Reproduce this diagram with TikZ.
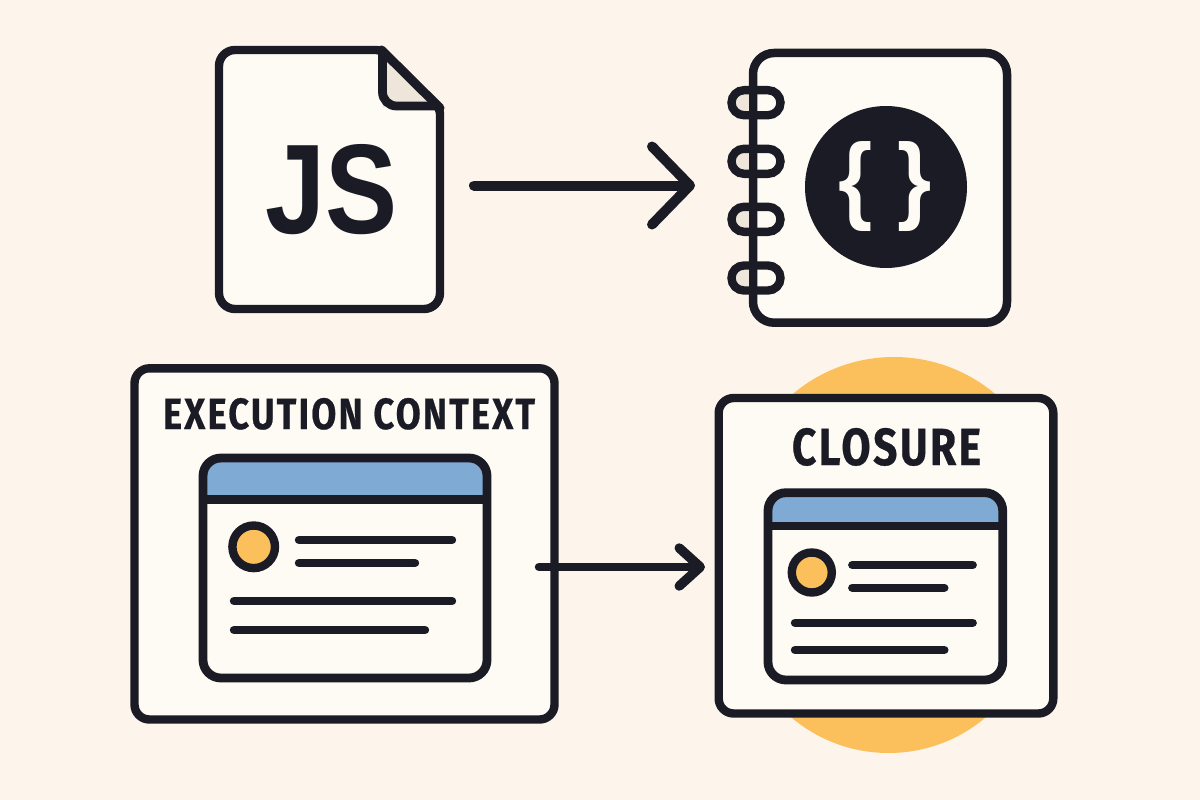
\documentclass[tikz,border=0pt]{standalone}
\usepackage{fontspec}
\usepackage{graphicx}
\setmainfont{Liberation Sans}
\newfontfamily\titlefont{Fira Sans}[UprightFont=* Bold,LetterSpace=6,FakeBold=0.6]
\newfontfamily\jsfont{Liberation Sans}[UprightFont=* Bold]
\usetikzlibrary{arrows.meta}
\definecolor{bgc}{HTML}{FDF5EC}
\definecolor{paper}{HTML}{FEFAF4}
\definecolor{ink}{HTML}{1A1B25}
\definecolor{foldc}{HTML}{EEE6DB}
\definecolor{bluec}{HTML}{7FAAD3}
\definecolor{sun}{HTML}{FBC05C}
\tikzset{
 x=1pt,y=-1pt,
 card/.style={draw=ink,fill=paper,line width=8.4pt,rounded corners=15pt},
 windowbox/.style={draw=ink,fill=paper,line width=8.8pt,rounded corners=18pt},
 textline/.style={draw=ink,line width=8.4pt,line cap=round},
 dot/.style={draw=ink,fill=sun,line width=8.4pt},
 ring/.style={draw=ink,fill=paper,line width=8.4pt,rounded corners=12.5pt},
 label/.style={inner sep=0pt,outer sep=0pt,anchor=base west,text=ink},
}
\begin{document}
\begin{tikzpicture}
\useasboundingbox (0,0) rectangle (1200,800);
\fill[bgc] (0,0) rectangle (1200,800);

% JS file
\path[card,line join=round] (300,50) [rounded corners=5pt] -- (381,50) -- (440,109) [rounded corners=16pt] -- (440,309) -- (219,309) -- (219,50) -- cycle;
\fill[foldc] (382.5,50) -- (440,107) -- (382.5,107) -- cycle;
\draw[ink,line width=8.8pt,rounded corners=14pt] (382.5,52) -- (382.5,106) -- (440,106);
\draw[ink,line width=9pt,line cap=round] (381.5,50) -- (440,108);
\node[label] (js) at (265,233.5) {\resizebox{132pt}{89pt}{\jsfont JS}};

% Notebook
\draw[card,line width=8.5pt,rounded corners=21pt] (753,53) rectangle (1007,322.7);
\foreach \n/\yy in {a/102.7,b/161.3,c/219.3,d/278}{
  \fill[foldc] (731.5,\yy-12.5) rectangle (753,\yy+12.5);
  \draw[ring,fill=none] (731.5,\yy-12.5) rectangle (780.5,\yy+12.5);
}
\draw[ink,line width=8.5pt] (753,70) -- (753,305);
\fill[ink] (886,187) circle[radius=81];
\node[inner sep=0pt,text=paper] (braces) at (885,186.7) {\resizebox*{93pt}{90pt}{\textbf{\{\hspace{0.28em}\}}}};

% Arrow 1
\coordinate (a1s) at (474,185.5);
\coordinate (a1e) at (695,185.5);
\draw[ink,line width=10pt,line cap=round,-{Straight Barb[length=38pt,width=78pt,round,line width=10pt]}] (a1s) -- (a1e);

% Execution context
\draw[card] (134.5,368.3) rectangle (554.5,719.5);
\node[label] (t1) at (163,429) {\resizebox{372pt}{31pt}{\titlefont EXECUTION CONTEXT}};
\path[fill=bluec,rounded corners=16pt] (203,499.7) -- (203,458) -- (487,458) -- (487,499.7);
\fill[bluec] (203,480) rectangle (487,499.7);
\draw[windowbox,fill=none] (203,458) rectangle (487,678);
\draw[ink,line width=8.8pt] (203,499.7) -- (487,499.7);
\draw[dot] (253.7,546.8) circle[radius=21.3];
\draw[textline] (299,540) -- (452,540);
\draw[textline] (299,563) -- (415,563);
\draw[textline] (234,601) -- (452,601);
\draw[textline] (234,630) -- (425,630);

% Closure
\fill[sun] (894,514) circle[radius=157];
\fill[sun] (888.5,602.5) circle[radius=150.5];
\draw[card] (718.7,398) rectangle (1053.3,713.5);
\node[label] (t2) at (792,465) {\resizebox{189pt}{37pt}{\titlefont CLOSURE}};
\path[fill=bluec,rounded corners=16pt] (768,526) -- (768,492.7) -- (1002.7,492.7) -- (1002.7,526);
\fill[bluec] (768,510) rectangle (1002.7,526);
\draw[windowbox,fill=none] (768,492.7) rectangle (1002.7,680);
\draw[ink,line width=8.8pt] (768,526) -- (1002.7,526);
\draw[dot] (811.8,572.5) circle[radius=20];
\draw[textline] (852.3,565) -- (972.7,565);
\draw[textline] (852.3,587.7) -- (944.3,587.7);
\draw[textline] (795,622.7) -- (972.7,622.7);
\draw[textline] (795,650) -- (944.3,650);

% Arrow 2
\coordinate (a2s) at (539,567);
\coordinate (a2e) at (705,567);
\draw[ink,line width=8.5pt,line cap=round,-{Straight Barb[length=21pt,width=38pt,round,line width=9.5pt]}] (a2s) -- (a2e);
\end{tikzpicture}
\end{document}
